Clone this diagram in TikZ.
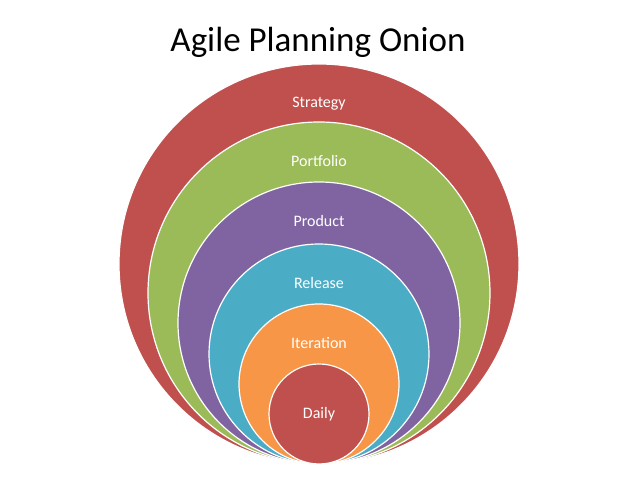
\documentclass[tikz,border=0pt]{standalone}
\usepackage{fontspec}
\setmainfont{Carlito}
\usetikzlibrary{calc,positioning}
\definecolor{onionred}{HTML}{C0504D}
\definecolor{oniongreen}{HTML}{9BBB59}
\definecolor{onionpurple}{HTML}{8064A2}
\definecolor{onionteal}{HTML}{4BACC6}
\definecolor{onionorange}{HTML}{F79646}

\begin{document}
\begin{tikzpicture}[x=1pt,y=1pt,
    ring/.style={circle, draw=white, line width=1.2pt, inner sep=0pt},
    lbl/.style={text=white, font=\fontsize{16}{19}\selectfont}]
    \useasboundingbox (0,0) rectangle (638,479);
    %% title
    \node (title) at (318,437) {\fontsize{35}{42}\selectfont Agile Planning Onion};
    %% rings, outer to inner, all touching at the bottom
    \node[ring, fill=onionred,    minimum size=400pt] (strategy)  at (319,215) {};
    \node[ring, fill=oniongreen,  minimum size=342pt] (portfolio) at (319,186) {};
    \node[ring, fill=onionpurple, minimum size=282pt] (product)   at (319,156) {};
    \node[ring, fill=onionteal,   minimum size=220pt] (release)   at (319,125) {};
    \node[ring, fill=onionorange, minimum size=160pt] (iteration) at (319,95)  {};
    \node[ring, fill=onionred,    minimum size=100pt] (daily)     at (319,65)  {};
    %% labels
    \node[lbl] at ($(strategy.north)+(0,-40)$)  {Strategy};
    \node[lbl] at ($(portfolio.north)+(0,-40)$) {Portfolio};
    \node[lbl] at ($(product.north)+(0,-40)$)   {Product};
    \node[lbl] at ($(release.north)+(0,-40)$)   {Release};
    \node[lbl] at ($(iteration.north)+(0,-40)$) {Iteration};
    \node[lbl] at (daily.center)                {Daily};
  \end{tikzpicture}
\end{document}
